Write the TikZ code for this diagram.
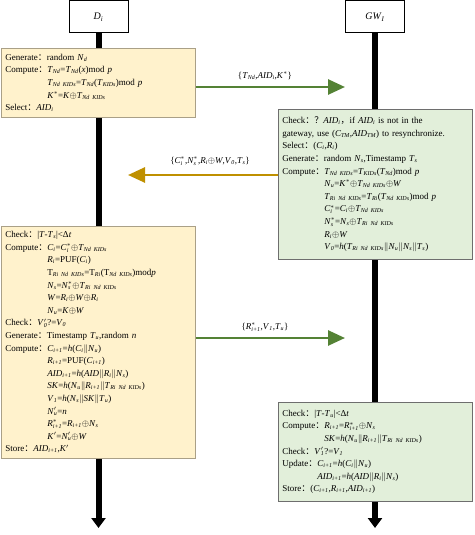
\documentclass[tikz,border=0pt]{standalone}
\usepackage{amsmath}
\usepackage{fontspec}
\setmainfont{Liberation Serif}
\newfontfamily\cjk{Noto Sans CJK SC}
\usetikzlibrary{arrows.meta}
\newcommand\vr[1]{\textit{#1}}
\newcommand\sbi[1]{\ensuremath{_{\text{\itshape #1}}}}
\newcommand\spi[1]{\ensuremath{^{#1}}}
\newcommand\sbsp[2]{\ensuremath{_{\text{\itshape #1}}^{#2}}}
\newcommand\xo{\ensuremath{\oplus}}
\newcommand\mycat{\ensuremath{\|}}
\newcommand\myco{{\cjk ：}}
\newcommand\myind{\hphantom{Compute\myco}}
\definecolor{yfill}{RGB}{255,242,204}
\definecolor{ybd}{RGB}{170,160,135}
\definecolor{gfill}{RGB}{226,239,218}
\definecolor{gbd}{RGB}{110,110,110}
\definecolor{garrow}{RGB}{84,130,53}
\definecolor{oarrow}{RGB}{191,144,0}
\begin{document}
\begin{tikzpicture}[x=1pt,y=-1pt,
  hdr/.style={draw=black, line width=1pt, minimum width=59pt, minimum height=32pt, inner sep=0pt, font=\fontsize{10}{11}\selectfont},
  life/.style={line width=6pt, -{Triangle[width=14pt,length=10pt]}},
  ybox/.style={draw=ybd, fill=yfill, line width=0.8pt, anchor=north west, text width=186pt, inner xsep=4pt, inner ysep=3pt, align=left, font=\fontsize{9}{12.6}\selectfont},
  gbox/.style={draw=gbd, fill=gfill, line width=0.8pt, anchor=north west, text width=186pt, inner xsep=4pt, inner ysep=3pt, align=left, font=\fontsize{9}{12.6}\selectfont},
  msg/.style={line width=2.7pt, -{Triangle[width=15pt,length=17pt]}},
  lbl/.style={font=\fontsize{9}{10}\selectfont, inner sep=0pt}
]
\useasboundingbox (0,0) rectangle (474,535);
% headers
\node[hdr] (d) at (98.5,17) {\vr{D}\sbi{i}};
\node[hdr] (gw) at (375,17) {\vr{GW}\sbi{I}};
% lifelines
\coordinate (dend) at (98.5,528);
\coordinate (gend) at (375,528);
\draw[life] (d.south) -- (dend);
\draw[life] (gw.south) -- (gend);
% left box 1
\node[ybox, minimum height=69pt] (lb1) at (1,48) {%
Generate\myco random \vr{N}\sbi{d}\\
Compute\myco\vr{T}\sbi{Nd}=\vr{T}\sbi{Nd}(\vr{x})mod \vr{p}\\
\myind\vr{T}\sbi{Nd KIDs}=\vr{T}\sbi{Nd}(\vr{T}\sbi{KIDs})mod \vr{p}\\
\myind\vr{K}\spi{*}=\vr{K}\xo\vr{T}\sbi{Nd KIDs}\\
Select\myco\vr{AID}\sbi{i}};
% right box 1
\node[gbox, minimum height=150pt] (rb1) at (278,109) {%
Check\myco{\cjk ？}\vr{AID}\sbi{i}{\cjk ，}if \vr{AID}\sbi{i} is not in the\\
gateway, use (\vr{C}\sbi{TM},\vr{AID}\sbi{TM}) to resynchronize.\\
Select\myco(\vr{C}\sbi{i},\vr{R}\sbi{i})\\
Generate\myco random \vr{N}\sbi{s},Timestamp \vr{T}\sbi{s}\\
Compute\myco\vr{T}\sbi{Nd KIDs}=\vr{T}\sbi{KIDs}(\vr{T}\sbi{Nd})mod \vr{p}\\
\myind\vr{N}\sbi{u}=\vr{K}\spi{*}\xo\vr{T}\sbi{Nd KIDs}\xo\vr{W}\\
\myind\vr{T}\sbi{Ri Nd KIDs}=\vr{T}\sbi{Ri}(\vr{T}\sbi{Nd KIDs})mod \vr{p}\\
\myind\vr{C}\sbsp{i}{*}=\vr{C}\sbi{i}\xo\vr{T}\sbi{Nd KIDs}\\
\myind\vr{N}\sbsp{s}{*}=\vr{N}\sbi{s}\xo\vr{T}\sbi{Ri Nd KIDs}\\
\myind\vr{R}\sbi{i}\xo\vr{W}\\
\myind\vr{V}\sbi{0}=\vr{h}(\vr{T}\sbi{Ri Nd KIDs}\mycat\vr{N}\sbi{u}\mycat\vr{N}\sbi{s}\mycat\vr{T}\sbi{s})};
% left box 2
\node[ybox, minimum height=232pt] (lb2) at (1,226) {%
Check\myco|\vr{T}-\vr{T}\sbi{s}|<Δ\vr{t}\\
Compute\myco\vr{C}\sbi{i}=\vr{C}\sbsp{i}{*}\xo\vr{T}\sbi{Nd KIDs}\\
\myind\vr{R}\sbi{i}=PUF(\vr{C}\sbi{i})\\
\myind T\sbi{Ri Nd KIDs}=T\sbi{Ri}(T\sbi{Nd KIDs})mod\vr{p}\\
\myind\vr{N}\sbi{s}=\vr{N}\sbsp{s}{*}\xo\vr{T}\sbi{Ri Nd KIDs}\\
\myind\vr{W}=\vr{R}\sbi{i}\xo\vr{W}\xo\vr{R}\sbi{i}\\
\myind\vr{N}\sbi{u}=\vr{K}\xo\vr{W}\\
Check\myco\vr{V}\sbsp{0}{\prime}?=\vr{V}\sbi{0}\\
Generate\myco Timestamp \vr{T}\sbi{u},random \vr{n}\\
Compute\myco\vr{C}\sbi{i+1}=\vr{h}(\vr{C}\sbi{i}\mycat\vr{N}\sbi{u})\\
\myind\vr{R}\sbi{i+1}=PUF(\vr{C}\sbi{i+1})\\
\myind\vr{AID}\sbi{i+1}=\vr{h}(\vr{AID}\mycat\vr{R}\sbi{i}\mycat\vr{N}\sbi{s})\\
\myind\vr{SK}=\vr{h}(\vr{N}\sbi{u}\mycat\vr{R}\sbi{i+1}\mycat\vr{T}\sbi{Ri Nd KIDs})\\
\myind\vr{V}\sbi{1}=\vr{h}(\vr{N}\sbi{s}\mycat\vr{SK}\mycat\vr{T}\sbi{u})\\
\myind\vr{N}\sbsp{u}{\prime}=\vr{n}\\
\myind\vr{R}\sbsp{i+1}{*}=\vr{R}\sbi{i+1}\xo\vr{N}\sbi{s}\\
\myind\vr{K}\spi{\prime}=\vr{N}\sbsp{u}{\prime}\xo\vr{W}\\
Store\myco\vr{AID}\sbi{i+1},\vr{K}\spi{\prime}};
% right box 2
\node[gbox, minimum height=99pt] (rb2) at (278,402) {%
Check\myco|\vr{T}-\vr{T}\sbi{u}|<Δ\vr{t}\\
Compute\myco\vr{R}\sbi{i+1}=\vr{R}\sbsp{i+1}{*}\xo\vr{N}\sbi{s}\\
\myind\vr{SK}=\vr{h}(\vr{N}\sbi{u}\mycat\vr{R}\sbi{i+1}\mycat\vr{T}\sbi{Ri Nd KIDs})\\
Check\myco\vr{V}\sbsp{1}{\prime}?=\vr{V}\sbi{1}\\
Update\myco\vr{C}\sbi{i+1}=\vr{h}(\vr{C}\sbi{i}\mycat\vr{N}\sbi{u})\\
\hphantom{Update\myco}\vr{AID}\sbi{i+1}=\vr{h}(\vr{AID}\mycat\vr{R}\sbi{i}\mycat\vr{N}\sbi{s})\\
Store\myco(\vr{C}\sbi{i+1},\vr{R}\sbi{i+1},\vr{AID}\sbi{i+1})};
% messages
\coordinate (m1) at (345,87);
\draw[msg, color=garrow] (lb1.east |- m1) -- (m1);
\node[lbl] (l1) at (265,76) {\{\vr{T}\sbi{Nd},\vr{AID}\sbi{i},\vr{K}\spi{*}\}};
\coordinate (m2) at (128,175);
\draw[msg, color=oarrow] (rb1.west |- m2) -- (m2);
\node[lbl] (l2) at (210,161) {\{\vr{C}\sbsp{i}{*},\vr{N}\sbsp{s}{*},\vr{R}\sbi{i}\xo\vr{W},\vr{V}\sbi{0},\vr{T}\sbi{s}\}};
\coordinate (m3) at (345,338);
\draw[msg, color=garrow] (lb2.east |- m3) -- (m3);
\node[lbl] (l3) at (265,327) {\{\vr{R}\sbsp{i+1}{*},\vr{V}\sbi{1},\vr{T}\sbi{u}\}};
\end{tikzpicture}
\end{document}
